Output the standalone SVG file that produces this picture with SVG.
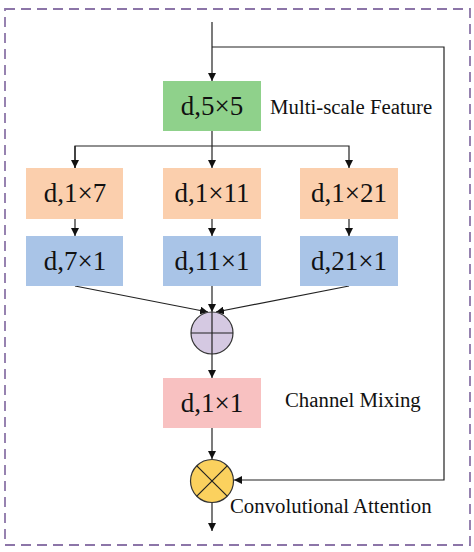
<svg xmlns="http://www.w3.org/2000/svg" width="474" height="552" viewBox="0 0 474 552">
<style>
.box{stroke:none}
.lbl{font-family:"Liberation Serif","Times New Roman",serif;font-size:27px;fill:#111;text-anchor:middle;dominant-baseline:central}
.note{font-family:"Liberation Serif","Times New Roman",serif;font-size:20.8px;fill:#111}
.ln{fill:none;stroke:#222;stroke-width:1.2}
</style>
<defs>
<marker id="ah" viewBox="0 0 10 10" refX="10" refY="5" markerWidth="8" markerHeight="8" markerUnits="userSpaceOnUse" orient="auto">
<path d="M0,0 L10,5 L0,10 z" fill="#111"/>
</marker>
</defs>
<rect width="474" height="552" fill="#fff"/>
<rect x="5" y="9" width="465" height="536" fill="none" stroke="#8c75a8" stroke-width="1.8" stroke-dasharray="10,6"/>
<g id="connectors">
<line class="ln" x1="212" y1="22" x2="212" y2="81" marker-end="url(#ah)"/>
<polyline class="ln" points="212,47 444,47 444,480 234,480" marker-end="url(#ah)"/>
<line class="ln" x1="212" y1="131" x2="212" y2="168" marker-end="url(#ah)"/>
<polyline class="ln" points="75,168 75,146 349,146 349,168" marker-end="url(#ah)"/>
<line class="ln" x1="75" y1="146" x2="75" y2="168" marker-end="url(#ah)"/>
<line class="ln" x1="75" y1="219" x2="75" y2="236" marker-end="url(#ah)"/>
<line class="ln" x1="212" y1="219" x2="212" y2="236" marker-end="url(#ah)"/>
<line class="ln" x1="349" y1="219" x2="349" y2="236" marker-end="url(#ah)"/>
<line class="ln" x1="75" y1="286" x2="208" y2="312" marker-end="url(#ah)"/>
<line class="ln" x1="212" y1="286" x2="212" y2="312" marker-end="url(#ah)"/>
<line class="ln" x1="349" y1="286" x2="216" y2="312" marker-end="url(#ah)"/>
<line class="ln" x1="212" y1="354" x2="212" y2="378" marker-end="url(#ah)"/>
<line class="ln" x1="212" y1="428" x2="212" y2="459" marker-end="url(#ah)"/>
<line class="ln" x1="212" y1="503" x2="212" y2="531" marker-end="url(#ah)"/>
</g>
<g id="n_d5x5">
<rect class="box" x="163" y="81" width="98" height="50" fill="#8fd18b"/>
<text class="lbl" x="212" y="106">d,5×5</text>
</g>
<g id="t_multiscale"><text class="note" x="270" y="114">Multi-scale Feature</text></g>
<g id="n_d1x7"><rect class="box" x="26" y="168" width="97" height="51" fill="#fbcfad"/><text class="lbl" x="75" y="193">d,1×7</text></g>
<g id="n_d1x11"><rect class="box" x="163" y="168" width="98" height="51" fill="#fbcfad"/><text class="lbl" x="212" y="193">d,1×11</text></g>
<g id="n_d1x21"><rect class="box" x="300" y="168" width="98" height="51" fill="#fbcfad"/><text class="lbl" x="349" y="193">d,1×21</text></g>
<g id="n_d7x1"><rect class="box" x="26" y="236" width="97" height="50" fill="#a9c4e7"/><text class="lbl" x="75" y="261">d,7×1</text></g>
<g id="n_d11x1"><rect class="box" x="163" y="236" width="98" height="50" fill="#a9c4e7"/><text class="lbl" x="212" y="261">d,11×1</text></g>
<g id="n_d21x1"><rect class="box" x="300" y="236" width="98" height="50" fill="#a9c4e7"/><text class="lbl" x="349" y="261">d,21×1</text></g>
<g id="n_add">
<circle cx="212" cy="333" r="21" fill="#d5c9e2" stroke="#333" stroke-width="1.2"/>
<line class="ln" x1="191" y1="333" x2="233" y2="333"/>
<line class="ln" x1="212" y1="312" x2="212" y2="354"/>
</g>
<g id="n_d1x1"><rect class="box" x="163" y="378" width="98" height="50" fill="#f8c1c1"/><text class="lbl" x="212" y="403">d,1×1</text></g>
<g id="t_channel"><text class="note" x="285" y="407">Channel Mixing</text></g>
<g id="n_mul">
<circle cx="212" cy="481" r="21.5" fill="#fbd15e" stroke="#333" stroke-width="1.2"/>
<line class="ln" x1="196.8" y1="465.8" x2="227.2" y2="496.2"/>
<line class="ln" x1="227.2" y1="465.8" x2="196.8" y2="496.2"/>
</g>
<g id="t_conv"><text class="note" x="230" y="513">Convolutional Attention</text></g>
</svg>
